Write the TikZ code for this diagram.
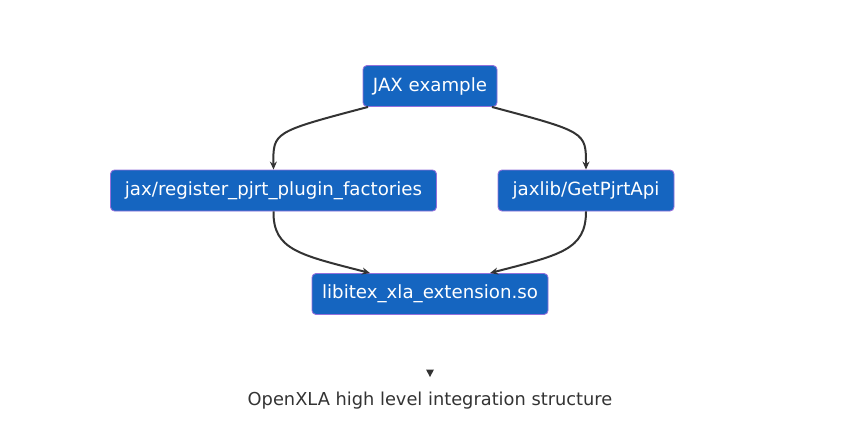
\documentclass[tikz,border=0pt]{standalone}
\usepackage{fontspec}
\setmainfont{DejaVu Sans}
\usetikzlibrary{arrows.meta}
\definecolor{boxfill}{HTML}{1565C0}
\definecolor{boxline}{HTML}{9370DB}
\definecolor{edge}{HTML}{333333}
\tikzset{
  box/.style={draw=boxline, line width=0.9pt, fill=boxfill, rounded corners=4pt,
    text=white, font=\fontsize{18.2}{20}\selectfont, minimum height=41pt, inner sep=0pt},
  conn/.style={draw=edge, line width=2pt, -{Stealth[length=8pt,width=7pt]}},
}
\begin{document}
\begin{tikzpicture}[x=1pt,y=-1pt]
\useasboundingbox (0,0) rectangle (862,442);
\node[box, minimum width=134pt] (jax) at (430,86) {JAX example};
\node[box, minimum width=326pt] (reg) at (273.5,190.5) {jax/register\_pjrt\_plugin\_factories};
\node[box, minimum width=176pt] (lib) at (586,190.5) {jaxlib/GetPjrtApi};
\node[box, minimum width=236pt] (ext) at (430,294) {libitex\_xla\_extension.so};
\draw[conn] ([xshift=-62pt]jax.south) .. controls (273,132) and (273,132) .. (reg.north);
\draw[conn] ([xshift=62pt]jax.south) .. controls (586,132) and (586,132) .. (lib.north);
\draw[conn] (reg.south) .. controls (273,250) and (300,255) .. ([xshift=-60pt]ext.north);
\draw[conn] (lib.south) .. controls (586,250) and (560,255) .. ([xshift=60pt]ext.north);
\fill[edge] (426,369.5) -- (434,369.5) -- (430,377) -- cycle;
\node[text=edge, font=\fontsize{17.8}{20}\selectfont] (cap) at (430,401) {OpenXLA high level integration structure};
\end{tikzpicture}
\end{document}
